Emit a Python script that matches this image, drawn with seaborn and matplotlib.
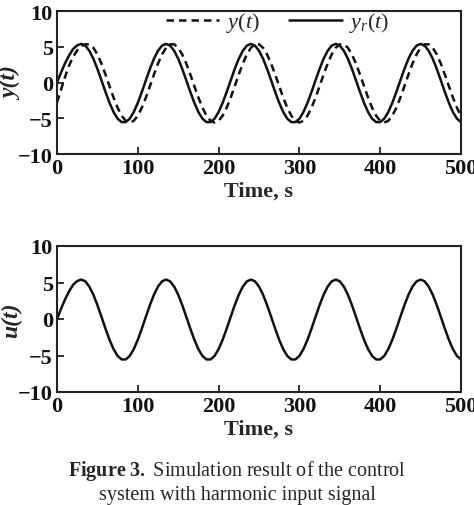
import numpy as np
import pandas as pd
import matplotlib
matplotlib.use("Agg")
import matplotlib.pyplot as plt
import seaborn as sns

# ---- data, time step 5 s ----
time_s = list(range(0, 505, 5))

y_r = [0.0, 1.4, 2.7, 3.8, 4.7, 5.2,
       5.40, 5.16, 4.44, 3.33, 1.91, 0.31, -1.32, -2.85, -4.13, -5.06, -5.54,
       -5.54, -5.06, -4.13, -2.85, -1.32, 0.31, 1.91, 3.33, 4.44, 5.16,
       5.40, 5.16, 4.44, 3.33, 1.91, 0.31, -1.32, -2.85, -4.13, -5.06, -5.54,
       -5.54, -5.06, -4.13, -2.85, -1.32, 0.31, 1.91, 3.33, 4.44, 5.16,
       5.40, 5.16, 4.44, 3.33, 1.91, 0.31, -1.32, -2.85, -4.13, -5.06, -5.54,
       -5.54, -5.06, -4.13, -2.85, -1.32, 0.31, 1.91, 3.33, 4.44, 5.16,
       5.40, 5.16, 4.44, 3.33, 1.91, 0.31, -1.32, -2.85, -4.13, -5.06, -5.54,
       -5.54, -5.06, -4.13, -2.85, -1.32, 0.31, 1.91, 3.33, 4.44, 5.16,
       5.40, 5.16, 4.44, 3.33, 1.91, 0.31, -1.32, -2.85, -4.13, -5.06, -5.54]

y_out = [-2.8, -1.0, 0.8, 2.4, 3.6, 4.5, 5.1, 5.34,
         5.34, 4.86, 3.93, 2.65, 1.12, -0.51, -2.11, -3.53, -4.64, -5.36, -5.60,
         -5.36, -4.64, -3.53, -2.11, -0.51, 1.12, 2.65, 3.93, 4.86, 5.34,
         5.34, 4.86, 3.93, 2.65, 1.12, -0.51, -2.11, -3.53, -4.64, -5.36, -5.60,
         -5.36, -4.64, -3.53, -2.11, -0.51, 1.12, 2.65, 3.93, 4.86, 5.34,
         5.34, 4.86, 3.93, 2.65, 1.12, -0.51, -2.11, -3.53, -4.64, -5.36, -5.60,
         -5.36, -4.64, -3.53, -2.11, -0.51, 1.12, 2.65, 3.93, 4.86, 5.34,
         5.34, 4.86, 3.93, 2.65, 1.12, -0.51, -2.11, -3.53, -4.64, -5.36, -5.60,
         -5.36, -4.64, -3.53, -2.11, -0.51, 1.12, 2.65, 3.93, 4.86, 5.34,
         5.34, 4.86, 3.93, 2.65, 1.12, -0.51, -2.11, -3.53, -4.64]

u_in = [0.0, 1.4, 2.7, 3.8, 4.7, 5.2,
        5.40, 5.16, 4.44, 3.33, 1.91, 0.31, -1.32, -2.85, -4.13, -5.06, -5.54,
        -5.54, -5.06, -4.13, -2.85, -1.32, 0.31, 1.91, 3.33, 4.44, 5.16,
        5.40, 5.16, 4.44, 3.33, 1.91, 0.31, -1.32, -2.85, -4.13, -5.06, -5.54,
        -5.54, -5.06, -4.13, -2.85, -1.32, 0.31, 1.91, 3.33, 4.44, 5.16,
        5.40, 5.16, 4.44, 3.33, 1.91, 0.31, -1.32, -2.85, -4.13, -5.06, -5.54,
        -5.54, -5.06, -4.13, -2.85, -1.32, 0.31, 1.91, 3.33, 4.44, 5.16,
        5.40, 5.16, 4.44, 3.33, 1.91, 0.31, -1.32, -2.85, -4.13, -5.06, -5.54,
        -5.54, -5.06, -4.13, -2.85, -1.32, 0.31, 1.91, 3.33, 4.44, 5.16,
        5.40, 5.16, 4.44, 3.33, 1.91, 0.31, -1.32, -2.85, -4.13, -5.06, -5.54]

x_ticks = [0, 100, 200, 300, 400, 500]
y_ticks = [-10, -5, 0, 5, 10]

# ---- style ----
sns.set_theme(style="ticks")
plt.rcParams["font.family"] = ["Liberation Serif", "DejaVu Serif"]
plt.rcParams["mathtext.fontset"] = "custom"
plt.rcParams["mathtext.rm"] = "Liberation Serif"
plt.rcParams["mathtext.it"] = "Liberation Serif:italic"
plt.rcParams["mathtext.bf"] = "Liberation Serif:bold"

fig = plt.figure(figsize=(4.74, 5.06), dpi=100)
ax1 = fig.add_axes([57/474, 1 - 155/506, 404/474, 143/506])
ax2 = fig.add_axes([57/474, 1 - 393/506, 404/474, 146/506])

df_top = pd.DataFrame({"t": time_s * 2,
                       "v": y_out + y_r,
                       "s": ["$y(t)$"] * len(time_s) + ["$y_r(t)$"] * len(time_s)})
df_bot = pd.DataFrame({"t": time_s, "v": u_in})

sns.lineplot(data=df_top, x="t", y="v", hue="s", style="s",
             palette={"$y(t)$": "#111111", "$y_r(t)$": "#111111"},
             dashes={"$y(t)$": (3, 2), "$y_r(t)$": ""},
             linewidth=1.8, ax=ax1, legend=True)
sns.lineplot(data=df_bot, x="t", y="v", color="#111111", linewidth=1.8, ax=ax2)

for ax, lab in [(ax1, "y(t)"), (ax2, "u(t)")]:
    ax.set_xlim(0, 500)
    ax.set_ylim(-10, 10)
    ax.set_xticks(x_ticks)
    ax.set_yticks(y_ticks)
    ax.tick_params(direction="in", length=5, width=1.2, labelsize=16,
                   top=False, right=False, pad=3, colors="#111111")
    for t in ax.get_xticklabels() + ax.get_yticklabels():
        t.set_fontweight("bold")
    for sp in ax.spines.values():
        sp.set_visible(True)
        sp.set_linewidth(1.5)
        sp.set_color("#222222")
    ax.set_xlabel("Time, s", fontsize=16, fontweight="bold", labelpad=2)
    ax.set_ylabel(lab, fontsize=17, fontweight="bold", fontstyle="italic")
    ax.yaxis.set_label_coords(-0.086, 0.5)

leg = ax1.legend(loc="center left", bbox_to_anchor=(0.27, 0.92), ncol=2,
                 frameon=False, fontsize=16, handlelength=2.4,
                 columnspacing=1.3, handletextpad=0.3, title=None,
                 borderaxespad=0.0, borderpad=0.0)

fig.text(0.5, 1 - 476/506, r"$\mathbf{Figure\ 3.}$ Simulation result of the control",
         ha="center", va="baseline", fontsize=14.5)
fig.text(0.5, 1 - 500/506, "system with harmonic input signal",
         ha="center", va="baseline", fontsize=14.5)

fig.savefig("out.png", dpi=100)
